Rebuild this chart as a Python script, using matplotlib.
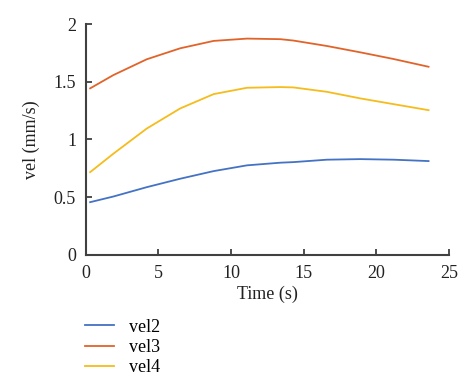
import matplotlib.pyplot as plt

plt.rcParams['font.family'] = ['Liberation Serif', 'DejaVu Serif']

# datos
t = [0.3, 1.9, 4.2, 6.5, 8.8, 11.1, 13.4, 14.3, 16.6, 18.9, 21.2, 23.6]
vel2 = [0.457, 0.506, 0.587, 0.66, 0.726, 0.776, 0.799, 0.804, 0.825, 0.83, 0.825, 0.813]
vel3 = [1.443, 1.558, 1.695, 1.79, 1.854, 1.874, 1.869, 1.857, 1.81, 1.755, 1.697, 1.63]
vel4 = [0.717, 0.877, 1.095, 1.269, 1.393, 1.448, 1.454, 1.451, 1.413, 1.356, 1.306, 1.254]

series = [("vel2", vel2, "#4472C4"),
          ("vel3", vel3, "#E2632A"),
          ("vel4", vel4, "#F5BC1C")]

fig = plt.figure(figsize=(4.74, 3.88), dpi=100)
ax = fig.add_axes([0.181, 0.343, 0.766, 0.595])

for nombre, v, c in series:
    ax.plot(t, v, color=c, lw=1.3, label=nombre)

ax.set_xlim(0, 25)
ax.set_ylim(0, 2)
ax.set_xticks([0, 5, 10, 15, 20, 25])
ax.set_yticks([0, 0.5, 1, 1.5, 2])
ax.set_yticklabels(["0", "0.5", "1", "1.5", "2"])

for s in ["top", "right"]:
    ax.spines[s].set_visible(False)
for s in ["left", "bottom"]:
    ax.spines[s].set_color("#404040")
    ax.spines[s].set_linewidth(1.5)
ax.tick_params(direction="in", length=4, width=1.3, color="#404040",
               labelsize=13, labelcolor="#222222", pad=7)

ax.set_xlabel("Time (s)", fontsize=13, color="#222222", labelpad=3)
ax.set_ylabel("vel (mm/s)", fontsize=13, color="#222222", labelpad=10)

fig.legend(loc="upper left", bbox_to_anchor=(0.165, 0.197), frameon=False,
           fontsize=13, handlelength=1.6, labelspacing=0.18, handletextpad=0.8,
           borderaxespad=0)

fig.savefig("out.png", dpi=100)
